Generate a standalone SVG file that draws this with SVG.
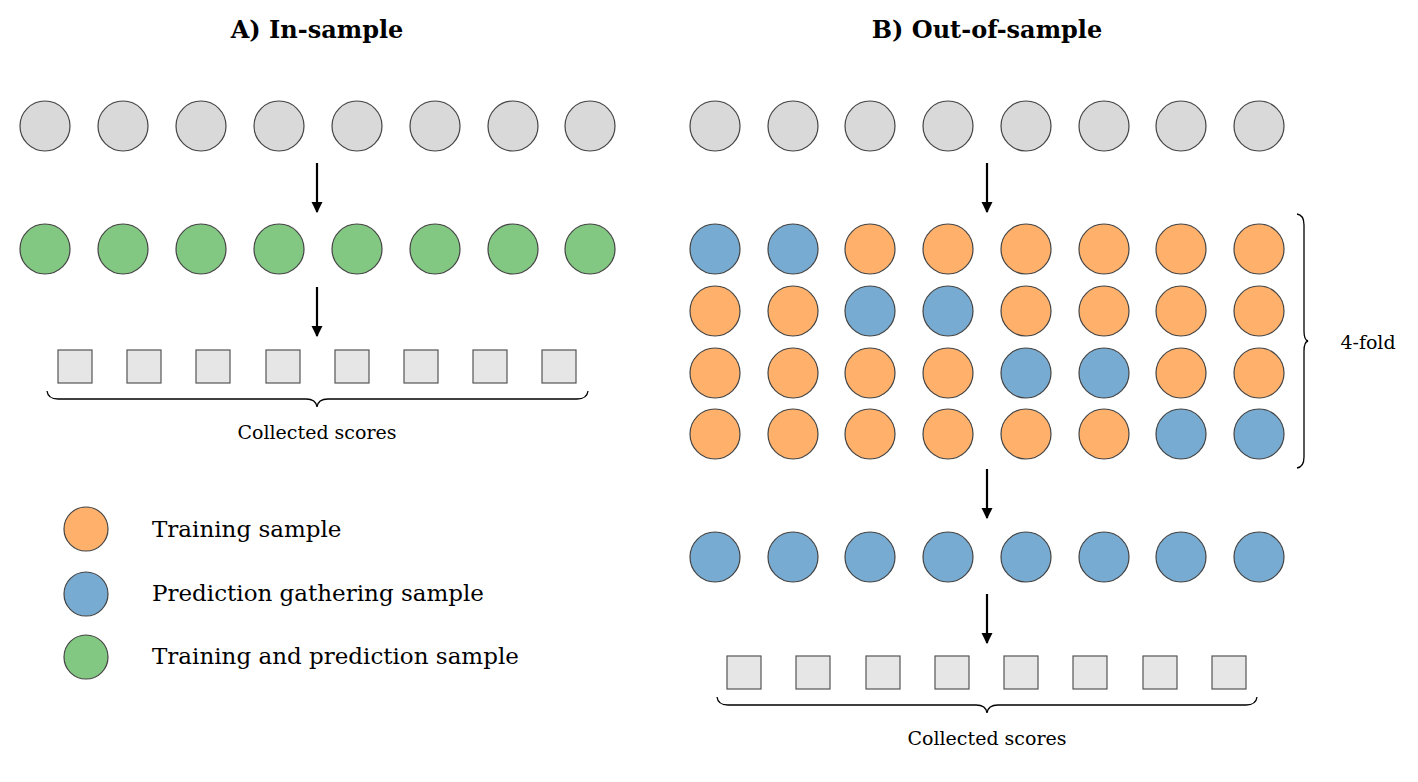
<svg xmlns="http://www.w3.org/2000/svg" width="1418" height="782" viewBox="0 0 1418 782">
<style>
text{font-family:"DejaVu Serif","Liberation Serif",serif;fill:#000}
.t{font-size:24px;font-weight:bold;text-anchor:middle}
.s{font-size:19px;text-anchor:middle}
.l{font-size:23px}
circle{stroke:#444;stroke-width:1.2}
.g{fill:#d9d9d9}.gr{fill:#82c782}.o{fill:#ffb16c}.b{fill:#78abd1}
rect{fill:#e6e6e6;stroke:#555;stroke-width:1.2}
.br{fill:none;stroke:#000;stroke-width:1.3}
.ar{stroke:#000;stroke-width:2.2;marker-end:url(#ah)}
</style>
<defs><marker id="ah" viewBox="0 0 10 10" refX="9" refY="5" markerWidth="5" markerHeight="7" orient="auto" markerUnits="strokeWidth"><path d="M0,0L10,5L0,10z" fill="#000"/></marker></defs>
<rect x="0" y="0" width="1418" height="782" style="fill:#fff;stroke:none"/>
<text class="t" x="317" y="38">A) In-sample</text>
<text class="t" x="987" y="38">B) Out-of-sample</text>
<g id="A-raw" class="g">
<circle cx="45" cy="126" r="25"/><circle cx="123" cy="126" r="25"/><circle cx="201" cy="126" r="25"/><circle cx="279" cy="126" r="25"/><circle cx="357" cy="126" r="25"/><circle cx="435" cy="126" r="25"/><circle cx="513" cy="126" r="25"/><circle cx="590" cy="126" r="25"/>
</g>
<g id="A-train" class="gr">
<circle cx="45" cy="249" r="25"/><circle cx="123" cy="249" r="25"/><circle cx="201" cy="249" r="25"/><circle cx="279" cy="249" r="25"/><circle cx="357" cy="249" r="25"/><circle cx="435" cy="249" r="25"/><circle cx="513" cy="249" r="25"/><circle cx="590" cy="249" r="25"/>
</g>
<g id="A-scores">
<rect x="58" y="350" width="34" height="33"/><rect x="127" y="350" width="34" height="33"/><rect x="196" y="350" width="34" height="33"/><rect x="266" y="350" width="34" height="33"/><rect x="335" y="350" width="34" height="33"/><rect x="404" y="350" width="34" height="33"/><rect x="473" y="350" width="34" height="33"/><rect x="542" y="350" width="34" height="33"/>
<path class="br" d="M47,391 Q48,399 58,399 L306,399 Q316,399 317,407 Q318,399 328,399 L577,399 Q587,399 588,391"/>
<text class="s" x="317" y="439">Collected scores</text>
</g>
<g id="B-raw" class="g">
<circle cx="715" cy="126" r="25"/><circle cx="793" cy="126" r="25"/><circle cx="870" cy="126" r="25"/><circle cx="948" cy="126" r="25"/><circle cx="1026" cy="126" r="25"/><circle cx="1104" cy="126" r="25"/><circle cx="1181" cy="126" r="25"/><circle cx="1259" cy="126" r="25"/>
</g>
<g id="B-folds">
<circle class="b" cx="715" cy="249" r="25"/><circle class="b" cx="793" cy="249" r="25"/><circle class="o" cx="870" cy="249" r="25"/><circle class="o" cx="948" cy="249" r="25"/><circle class="o" cx="1026" cy="249" r="25"/><circle class="o" cx="1104" cy="249" r="25"/><circle class="o" cx="1181" cy="249" r="25"/><circle class="o" cx="1259" cy="249" r="25"/>
<circle class="o" cx="715" cy="311" r="25"/><circle class="o" cx="793" cy="311" r="25"/><circle class="b" cx="870" cy="311" r="25"/><circle class="b" cx="948" cy="311" r="25"/><circle class="o" cx="1026" cy="311" r="25"/><circle class="o" cx="1104" cy="311" r="25"/><circle class="o" cx="1181" cy="311" r="25"/><circle class="o" cx="1259" cy="311" r="25"/>
<circle class="o" cx="715" cy="373" r="25"/><circle class="o" cx="793" cy="373" r="25"/><circle class="o" cx="870" cy="373" r="25"/><circle class="o" cx="948" cy="373" r="25"/><circle class="b" cx="1026" cy="373" r="25"/><circle class="b" cx="1104" cy="373" r="25"/><circle class="o" cx="1181" cy="373" r="25"/><circle class="o" cx="1259" cy="373" r="25"/>
<circle class="o" cx="715" cy="434" r="25"/><circle class="o" cx="793" cy="434" r="25"/><circle class="o" cx="870" cy="434" r="25"/><circle class="o" cx="948" cy="434" r="25"/><circle class="o" cx="1026" cy="434" r="25"/><circle class="o" cx="1104" cy="434" r="25"/><circle class="b" cx="1181" cy="434" r="25"/><circle class="b" cx="1259" cy="434" r="25"/>
<path class="br" d="M1297,214 Q1304,215 1304,225 L1304,331 Q1304,340 1308,341 Q1304,342 1304,351 L1304,457 Q1304,467 1297,468"/>
<text class="s" x="1368" y="349">4-fold</text>
</g>
<g id="B-pred" class="b">
<circle cx="715" cy="557" r="25"/><circle cx="793" cy="557" r="25"/><circle cx="870" cy="557" r="25"/><circle cx="948" cy="557" r="25"/><circle cx="1026" cy="557" r="25"/><circle cx="1104" cy="557" r="25"/><circle cx="1181" cy="557" r="25"/><circle cx="1259" cy="557" r="25"/>
</g>
<g id="B-scores">
<rect x="727" y="656" width="34" height="33"/><rect x="796" y="656" width="34" height="33"/><rect x="866" y="656" width="34" height="33"/><rect x="935" y="656" width="34" height="33"/><rect x="1004" y="656" width="34" height="33"/><rect x="1073" y="656" width="34" height="33"/><rect x="1143" y="656" width="34" height="33"/><rect x="1212" y="656" width="34" height="33"/>
<path class="br" d="M717,697 Q718,705 728,705 L976,705 Q986,705 987,713 Q988,705 998,705 L1246,705 Q1256,705 1257,697"/>
<text class="s" x="987" y="745">Collected scores</text>
</g>
<g id="legend">
<circle class="o" cx="86" cy="529" r="22"/><text class="l" x="152" y="537">Training sample</text>
<circle class="b" cx="86" cy="594" r="22"/><text class="l" x="152" y="601">Prediction gathering sample</text>
<circle class="gr" cx="86" cy="657" r="22"/><text class="l" x="152" y="664">Training and prediction sample</text>
</g>
<g id="connectors">
<line class="ar" x1="317" y1="163" x2="317" y2="212"/>
<line class="ar" x1="317" y1="287" x2="317" y2="336"/>
<line class="ar" x1="987" y1="163" x2="987" y2="212"/>
<line class="ar" x1="987" y1="469" x2="987" y2="518"/>
<line class="ar" x1="987" y1="594" x2="987" y2="643"/>
</g>
</svg>
